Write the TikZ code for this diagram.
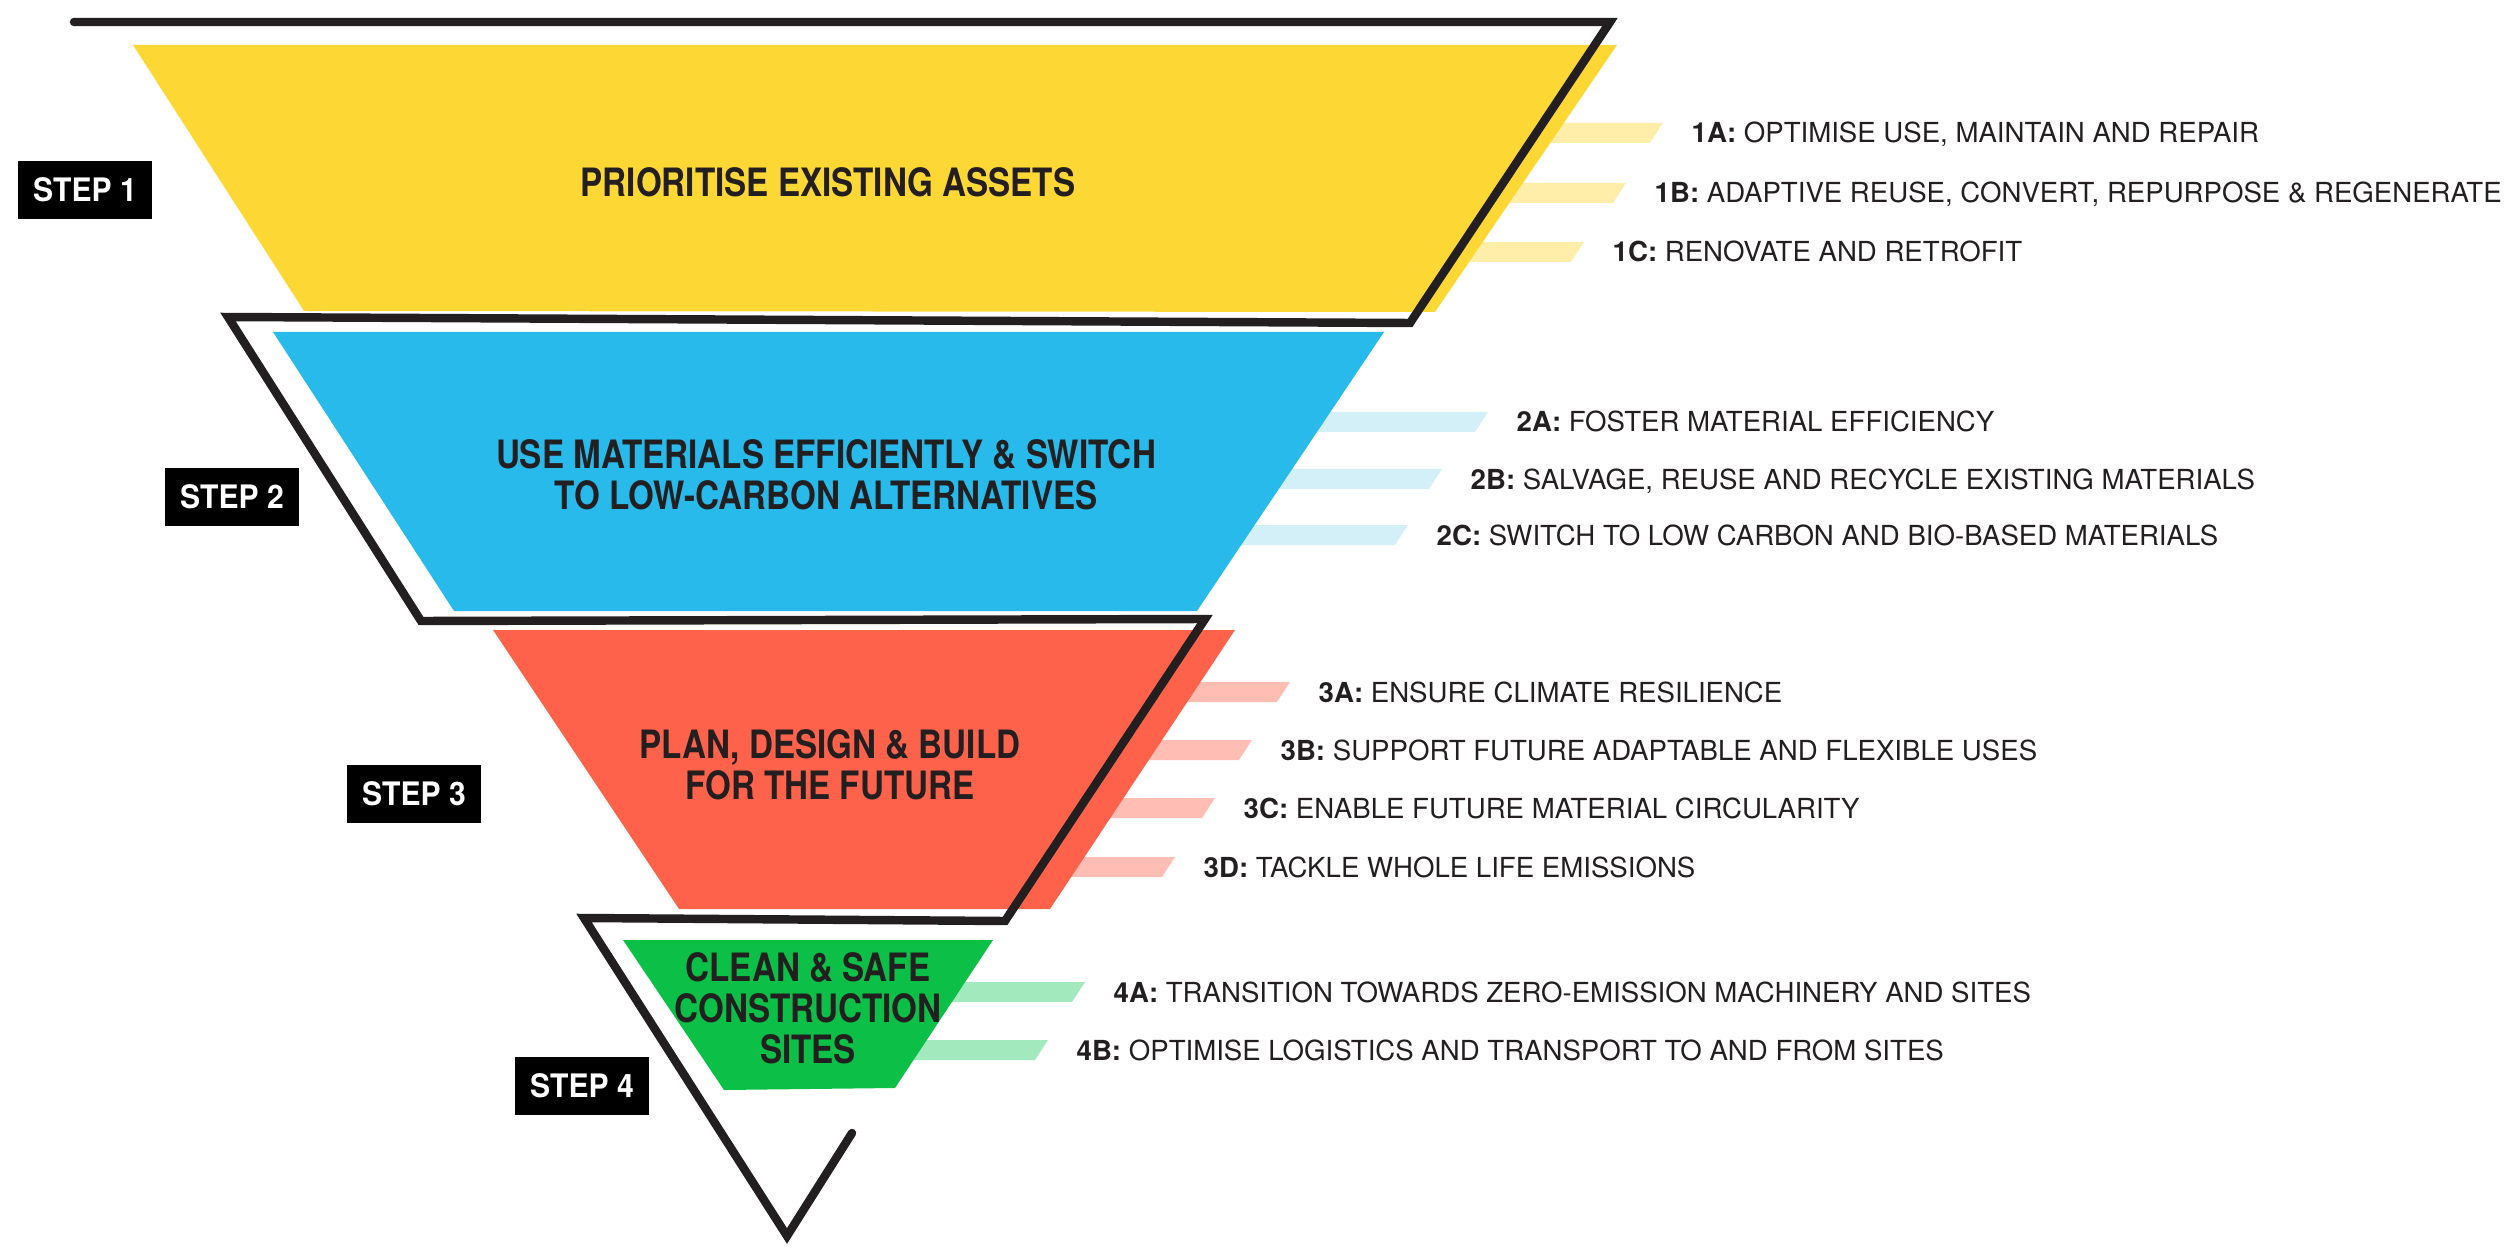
\documentclass[tikz,border=0pt]{standalone}
\usepackage{fontspec}
\setmainfont{TeX Gyre Heros}
\newfontfamily\headfont{TeX Gyre Heros}[FakeStretch=0.85]
\newfontfamily\stepfont{TeX Gyre Heros}[FakeStretch=0.93]
\usepackage{xcolor}
\usepackage{tikz}
\definecolor{funyellow}{HTML}{FDD835}
\definecolor{funblue}{HTML}{27BAEA}
\definecolor{funred}{HTML}{FF624B}
\definecolor{fungreen}{HTML}{0BBF47}
\definecolor{lightyellow}{HTML}{FFEEAA}
\definecolor{lightblue}{HTML}{D3F0F8}
\definecolor{lightred}{HTML}{FFBDB3}
\definecolor{lightgreen}{HTML}{A2E9BD}
\definecolor{darkline}{HTML}{231F20}
\tikzset{
  steplabel/.style={fill=black,text=white,font=\stepfont\bfseries\fontsize{9.2}{11}\selectfont,
    minimum width=1.34cm,minimum height=0.58cm,inner sep=0pt},
  headtext/.style={font=\headfont\bfseries\fontsize{11.1}{11.7}\selectfont,align=center,
    inner sep=0pt,text=darkline},
  subtext/.style={font=\fontsize{7.85}{9}\selectfont,anchor=base west,inner sep=0pt,text=darkline}
}

\begin{document}
\begin{tikzpicture}[x=0.01cm,y=-0.01cm]
  \useasboundingbox (0,0) rectangle (2506,1258);
  \foreach \n/\x/\y/\c/\t in {
      1a/1691/143/lightyellow/{\textbf{1A:} OPTIMISE USE, MAINTAIN AND REPAIR},
      1b/1654/203/lightyellow/{\textbf{1B:} ADAPTIVE REUSE, CONVERT, REPURPOSE \& REGENERATE},
      1c/1612/262/lightyellow/{\textbf{1C:} RENOVATE AND RETROFIT},
      2a/1516/432/lightblue/{\textbf{2A:} FOSTER MATERIAL EFFICIENCY},
      2b/1470/489/lightblue/{\textbf{2B:} SALVAGE, REUSE AND RECYCLE EXISTING MATERIALS},
      2c/1436/545/lightblue/{\textbf{2C:} SWITCH TO LOW CARBON AND BIO-BASED MATERIALS},
      3a/1318/702/lightred/{\textbf{3A:} ENSURE CLIMATE RESILIENCE},
      3b/1280/760/lightred/{\textbf{3B:} SUPPORT FUTURE ADAPTABLE AND FLEXIBLE USES},
      3c/1243/818/lightred/{\textbf{3C:} ENABLE FUTURE MATERIAL CIRCULARITY},
      3d/1203/877/lightred/{\textbf{3D:} TACKLE WHOLE LIFE EMISSIONS},
      4a/1113/1002/lightgreen/{\textbf{4A:} TRANSITION TOWARDS ZERO-EMISSION MACHINERY AND SITES},
      4b/1076/1060/lightgreen/{\textbf{4B:} OPTIMISE LOGISTICS AND TRANSPORT TO AND FROM SITES}} {
    \node[subtext] (lab\n) at (\x,\y) {\t};
    \fill[\c] ([xshift=-0.41cm]lab\n.base west) -- ++(13,-20) -- ++(-200,0) -- ++(-13,20) -- cycle;
  }
  \fill[funyellow] (133,45) -- (1617,45) -- (1435,312) -- (304,311) -- cycle;
  \fill[funblue] (273,332) -- (1384,332) -- (1197,611) -- (454,611) -- cycle;
  \fill[funred] (493,630) -- (1235,630) -- (1050,909) -- (679,909) -- cycle;
  \fill[fungreen] (623,940) -- (993,940) -- (895,1088) -- (724,1090) -- cycle;
  \draw[darkline,line width=2.4pt,line cap=round] (74,22) -- (1610,22) -- (1410,323) -- (228,317)
    -- (421,621) -- (1205,619) -- (1005,921) -- (584,918) -- (787,1236) -- (852,1133);
  \node[headtext] (head1) at (828,182) {PRIORITISE EXISTING ASSETS};
  \node[headtext] (head2) at (826,475) {USE MATERIALS EFFICIENTLY \& SWITCH\\TO LOW-CARBON ALTERNATIVES};
  \node[headtext] (head3) at (830,765) {PLAN, DESIGN \& BUILD\\FOR THE FUTURE};
  \node[headtext] (head4) at (808,1008) {CLEAN \& SAFE\\CONSTRUCTION\\SITES};
  \node[steplabel] (step1) at (85,190) {STEP 1};
  \node[steplabel] (step2) at (232,497) {STEP 2};
  \node[steplabel] (step3) at (414,794) {STEP 3};
  \node[steplabel] (step4) at (582,1086) {STEP 4};
\end{tikzpicture}
\end{document}
